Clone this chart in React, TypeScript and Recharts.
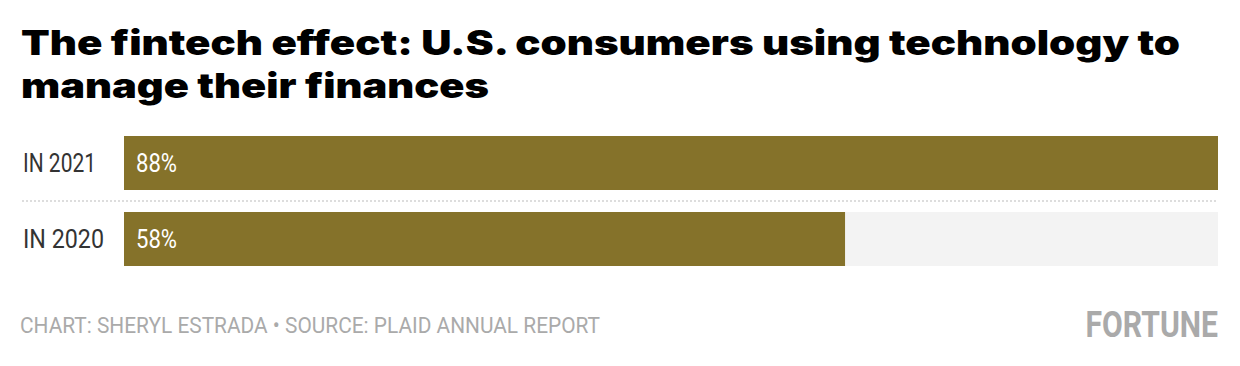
import React from "react";
import { BarChart, Bar, XAxis, YAxis, LabelList } from "recharts";

const categories = ["IN 2021", "IN 2020"];
const values = [88, 58];
const valueLabels = ["88%", "58%"];

const titleLines = [
  "The fintech effect: U.S. consumers using technology to",
  "manage their finances",
];
const footerText = "CHART: SHERYL ESTRADA • SOURCE: PLAID ANNUAL REPORT";
const brandText = "FORTUNE";

const data = categories.map((c, i) => ({ label: c, value: values[i], text: valueLabels[i] }));

const BAR_COLOR = "#85722A";
const TRACK = "#F3F3F3";
const LABEL_FONT = "'Liberation Sans Narrow', Roboto, sans-serif";
const TITLE_FONT = "Inter, Roboto, sans-serif";

const tickWidths: Record<string, number> = { "IN 2021": 73, "IN 2020": 81 };
const valueWidths: Record<string, number> = { "88%": 41, "58%": 41 };

const YTick = (props: any) => {
  const { y, payload } = props;
  return (
    <text
      x={23}
      y={y + 9}
      fill="#333333"
      fontSize={25}
      fontFamily={LABEL_FONT}
      textLength={tickWidths[payload.value]}
      lengthAdjust="spacingAndGlyphs"
    >
      {payload.value}
    </text>
  );
};

const ValueLabel = (props: any) => {
  const { x, y, height, value } = props;
  return (
    <text
      x={x + 12}
      y={y + height / 2 + 9}
      fill="#FFFFFF"
      fontSize={25}
      fontFamily={LABEL_FONT}
      textLength={valueWidths[value]}
      lengthAdjust="spacingAndGlyphs"
    >
      {value}
    </text>
  );
};

export default function App() {
  return (
    <div
      style={{
        position: "absolute",
        left: 0,
        top: 0,
        width: 1240,
        height: 366,
        background: "#fff",
        overflow: "hidden",
      }}
    >
      <div style={{ position: "absolute", left: 0, top: 125 }}>
        <BarChart
          width={1240}
          height={152}
          data={data}
          layout="vertical"
          margin={{ top: 0, right: 22, bottom: 0, left: 0 }}
        >
          <XAxis type="number" domain={[0, 88]} hide />
          <YAxis
            type="category"
            dataKey="label"
            width={124}
            axisLine={false}
            tickLine={false}
            tick={<YTick />}
          />
          <Bar
            dataKey="value"
            fill={BAR_COLOR}
            barSize={54}
            background={{ fill: TRACK }}
            isAnimationActive={false}
          >
            <LabelList dataKey="text" content={<ValueLabel />} />
          </Bar>
        </BarChart>
      </div>
      <svg
        width={1240}
        height={366}
        style={{ position: "absolute", left: 0, top: 0, pointerEvents: "none" }}
      >
        <text
          x={21}
          y={55}
          fontFamily={TITLE_FONT}
          fontWeight={900}
          fontSize={34}
          fill="#000"
          textLength={1159}
          lengthAdjust="spacingAndGlyphs"
        >
          {titleLines[0]}
        </text>
        <text
          x={21}
          y={98}
          fontFamily={TITLE_FONT}
          fontWeight={900}
          fontSize={34}
          fill="#000"
          textLength={468}
          lengthAdjust="spacingAndGlyphs"
        >
          {titleLines[1]}
        </text>
        <line
          x1={22}
          x2={1218}
          y1={201}
          y2={201}
          stroke="#DDDDDD"
          strokeWidth={2}
          strokeDasharray="2 2"
        />
        <text
          x={20}
          y={333}
          fontFamily={LABEL_FONT}
          fontSize={22}
          fill="#AAAAAA"
          textLength={580}
          lengthAdjust="spacingAndGlyphs"
        >
          {footerText}
        </text>
        <text
          x={0}
          y={0}
          transform="translate(1218,337) scale(0.815,1)"
          textAnchor="end"
          fontFamily="Roboto, sans-serif"
          fontWeight={700}
          fontSize={37}
          fill="#AAAAAA"
        >
          {brandText}
        </text>
      </svg>
    </div>
  );
}
